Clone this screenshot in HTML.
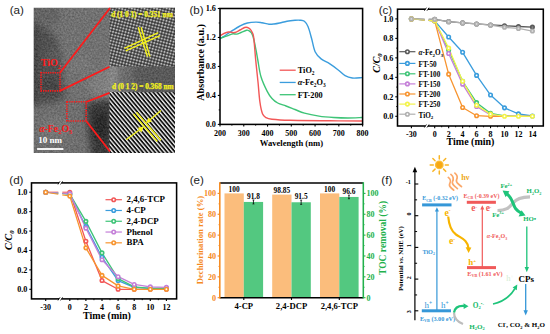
<!DOCTYPE html><html><head><meta charset="utf-8"><style>html,body{margin:0;padding:0;background:#fff;}svg{display:block;}</style></head><body>
<svg width="550" height="334" viewBox="0 0 550 334">
<rect width="550" height="334" fill="#fff"/>
<text x="9.70" y="13.50" font-size="11.6" text-anchor="start" font-weight="normal" fill="#222" font-family="Liberation Sans" >(a)</text>
<defs>
<filter id="tem" filterUnits="userSpaceOnUse" x="20" y="0" width="170" height="165" color-interpolation-filters="sRGB">
 <feGaussianBlur in="SourceGraphic" stdDeviation="3" result="b"/>
 <feTurbulence type="fractalNoise" baseFrequency="0.55" numOctaves="2" seed="7" result="t"/>
 <feColorMatrix in="t" type="matrix" values="1 0 0 0 0  1 0 0 0 0  1 0 0 0 0  0 0 0 0 1" result="tg"/>
 <feComposite in="b" in2="tg" operator="arithmetic" k1="0" k2="1" k3="0.24" k4="-0.12"/>
</filter>
<pattern id="lat" patternUnits="userSpaceOnUse" width="3.05" height="3.05" patternTransform="rotate(15)">
 <rect width="3.05" height="3.05" fill="#333"/>
 <circle cx="1.52" cy="1.52" r="1.2" fill="#a9a9a9"/>
 <circle cx="1.4" cy="1.4" r="0.55" fill="#cfcfcf"/>
</pattern>
<pattern id="str" patternUnits="userSpaceOnUse" width="3.1" height="10" patternTransform="rotate(-40)">
 <rect width="3.1" height="10" fill="#121212"/>
 <rect width="1.35" height="10" fill="#eeeeee"/>
</pattern>
<clipPath id="clipA"><rect x="33.7" y="7.8" width="141.3" height="145.1"/></clipPath>
</defs>
<g clip-path="url(#clipA)"><g filter="url(#tem)">
<rect x="20" y="0" width="170" height="165" fill="#6e6e6e"/>
<rect x="20" y="0" width="45" height="24" fill="#646464"/>
<polygon points="60,0 120,0 120,100 88,101 70,96 63,60 58,30" fill="#717171"/>
<ellipse cx="100" cy="84" rx="11" ry="14" fill="#7e7e7e"/>
<ellipse cx="80" cy="64" rx="12" ry="10" fill="#767676"/>
<polygon points="20,22 33,23 43,26 52,33 58,43 61,55 62,70 63,85 66,95 58,102 45,104 20,105" fill="#505050"/>
<rect x="20" y="24" width="17" height="82" fill="#424242"/>
<ellipse cx="50" cy="86" rx="11" ry="9" fill="#464646"/>
<ellipse cx="52" cy="56" rx="7" ry="10" fill="#595959"/>
<polygon points="86,104 112,98 112,160 92,160 88,130" fill="#3a3a3a"/>
<ellipse cx="101" cy="126" rx="8" ry="14" fill="#2a2a2a"/>
<ellipse cx="55" cy="128" rx="16" ry="12" fill="#767676"/>
<rect x="118" y="60" width="70" height="40" fill="#5a5a5a"/>
<rect x="117" y="60" width="16" height="40" fill="#6c6c6c"/>
<rect x="108" y="60" width="10" height="40" fill="#888888"/>
</g></g>
<rect x="109.5" y="7.8" width="65.5" height="58.7" fill="url(#lat)"/>
<rect x="109.5" y="92.2" width="65.5" height="60.7" fill="url(#str)"/>
<text x="111.20" y="16.90" font-size="7.3" text-anchor="start" font-weight="bold" fill="#f5f21c" font-family="Liberation Serif" stroke="#f5f21c" stroke-width="0.25">d (1 0 1) = 0.351 nm</text>
<text x="112.00" y="89.40" font-size="7.3" text-anchor="start" font-weight="bold" fill="#f5f21c" font-family="Liberation Serif" stroke="#f5f21c" stroke-width="0.25">d (0 1 2) = 0.368 nm</text>
<line x1="138.20" y1="27.30" x2="147.40" y2="56.50" stroke="#f5f21c" stroke-width="1.4" />
<line x1="141.10" y1="27.30" x2="149.90" y2="56.50" stroke="#f5f21c" stroke-width="1.4" />
<line x1="124.40" y1="48.30" x2="158.30" y2="32.60" stroke="#f5f21c" stroke-width="1.4" />
<line x1="125.70" y1="50.80" x2="160.00" y2="35.70" stroke="#f5f21c" stroke-width="1.4" />
<line x1="133.40" y1="114.00" x2="157.30" y2="141.50" stroke="#f5f21c" stroke-width="1.4" />
<line x1="136.40" y1="112.20" x2="160.90" y2="140.30" stroke="#f5f21c" stroke-width="1.4" />
<line x1="126.20" y1="139.70" x2="140.50" y2="129.00" stroke="#f5f21c" stroke-width="1.3" />
<polygon points="143.8,126.4 137.6,127.8 141.4,132.4" fill="#f5f21c"/>
<line x1="160.90" y1="110.40" x2="149.50" y2="120.30" stroke="#f5f21c" stroke-width="1.3" />
<polygon points="146,123.2 148.2,117.4 152,121.6" fill="#f5f21c"/>
<line x1="60.00" y1="72.70" x2="110.00" y2="8.00" stroke="#ff1a1a" stroke-width="1.8" />
<line x1="60.00" y1="90.90" x2="109.50" y2="66.80" stroke="#ff1a1a" stroke-width="1.8" />
<line x1="86.20" y1="102.00" x2="109.50" y2="92.80" stroke="#ff1a1a" stroke-width="1.8" />
<line x1="86.20" y1="121.00" x2="110.00" y2="151.50" stroke="#ff1a1a" stroke-width="1.8" />
<rect x="41" y="72.7" width="19" height="18.2" fill="none" stroke="#ff1a1a" stroke-width="1.6" stroke-dasharray="1.3,1"/>
<rect x="66.9" y="101.8" width="19.3" height="19.2" fill="none" stroke="#ff1a1a" stroke-width="1.6" stroke-dasharray="1.3,1"/>
<text x="40.80" y="66.40" font-size="10" text-anchor="start" font-weight="bold" fill="#ff1a1a" font-family="Liberation Serif" >TiO<tspan font-size="6.50" dy="2.20">2</tspan><tspan dy="-2.20"> </tspan></text>
<text x="39.20" y="131.90" font-size="9.8" text-anchor="start" font-weight="bold" fill="#ff1a1a" font-family="Liberation Serif" ><tspan font-style="italic">α</tspan>-Fe<tspan font-size="6.3" dy="2.2">2</tspan><tspan dy="-2.2">O</tspan><tspan font-size="6.3" dy="2.2">3</tspan></text>
<text x="38.20" y="142.90" font-size="9" text-anchor="start" font-weight="bold" fill="#fff" font-family="Liberation Serif" >10 nm</text>
<rect x="37.1" y="148.1" width="26.3" height="1.8" fill="#fff"/>
<text x="189.40" y="13.90" font-size="11.6" text-anchor="start" font-weight="normal" fill="#222" font-family="Liberation Sans" >(b)</text>
<path d="M220.50,38.30 C221.42,37.75 223.92,36.35 226.00,35.00 C228.08,33.65 230.67,31.70 233.00,30.20 C235.33,28.70 237.60,27.20 240.00,26.00 C242.40,24.80 244.68,23.65 247.40,23.00 C250.12,22.35 253.87,22.13 256.30,22.10 C258.73,22.07 259.88,22.45 262.00,22.80 C264.12,23.15 267.00,24.00 269.00,24.20 C271.00,24.40 272.22,24.20 274.00,24.00 C275.78,23.80 277.53,23.47 279.70,23.00 C281.87,22.53 284.45,21.65 287.00,21.20 C289.55,20.75 292.83,20.47 295.00,20.30 C297.17,20.13 298.43,20.03 300.00,20.20 C301.57,20.37 303.07,20.23 304.40,21.30 C305.73,22.37 306.80,23.73 308.00,26.60 C309.20,29.47 310.42,34.32 311.60,38.50 C312.78,42.68 313.52,48.30 315.10,51.70 C316.68,55.10 318.70,56.90 321.10,58.90 C323.50,60.90 326.70,61.90 329.50,63.70 C332.30,65.50 335.30,67.70 337.90,69.70 C340.50,71.70 342.70,74.32 345.10,75.70 C347.50,77.08 349.48,77.68 352.30,78.00 C355.12,78.32 360.38,77.67 362.00,77.60" fill="none" stroke="#3b9ddd" stroke-width="1.4" stroke-linejoin="round"/>
<path d="M220.50,38.30 C221.08,38.08 222.75,37.45 224.00,37.00 C225.25,36.55 226.50,36.13 228.00,35.60 C229.50,35.07 231.57,34.05 233.00,33.80 C234.43,33.55 235.27,34.32 236.60,34.10 C237.93,33.88 239.35,33.15 241.00,32.50 C242.65,31.85 245.17,30.50 246.50,30.20 C247.83,29.90 248.17,30.23 249.00,30.70 C249.83,31.17 250.72,31.62 251.50,33.00 C252.28,34.38 252.95,36.17 253.70,39.00 C254.45,41.83 255.32,46.50 256.00,50.00 C256.68,53.50 256.97,55.53 257.80,60.00 C258.63,64.47 259.43,71.57 261.00,76.80 C262.57,82.03 265.37,87.78 267.20,91.40 C269.03,95.02 270.25,96.57 272.00,98.50 C273.75,100.43 275.37,101.75 277.70,103.00 C280.03,104.25 283.12,104.92 286.00,106.00 C288.88,107.08 291.92,108.30 295.00,109.50 C298.08,110.70 300.50,112.10 304.50,113.20 C308.50,114.30 314.15,115.38 319.00,116.10 C323.85,116.82 328.77,117.18 333.60,117.50 C338.43,117.82 343.27,118.00 348.00,118.00 C352.73,118.00 359.67,117.58 362.00,117.50" fill="none" stroke="#3ec477" stroke-width="1.4" stroke-linejoin="round"/>
<path d="M220.50,35.60 C221.08,35.25 222.67,34.10 224.00,33.50 C225.33,32.90 227.25,32.20 228.50,32.00 C229.75,31.80 230.45,32.22 231.50,32.30 C232.55,32.38 233.38,32.88 234.80,32.50 C236.22,32.12 238.35,30.83 240.00,30.00 C241.65,29.17 243.45,27.92 244.70,27.50 C245.95,27.08 246.62,27.25 247.50,27.50 C248.38,27.75 249.25,28.25 250.00,29.00 C250.75,29.75 251.38,30.60 252.00,32.00 C252.62,33.40 253.08,32.73 253.70,37.40 C254.32,42.07 254.98,52.57 255.70,60.00 C256.42,67.43 257.30,75.02 258.00,82.00 C258.70,88.98 259.15,96.60 259.90,101.90 C260.65,107.20 261.48,111.18 262.50,113.80 C263.52,116.42 264.42,116.70 266.00,117.60 C267.58,118.50 268.00,118.75 272.00,119.20 C276.00,119.65 280.33,120.03 290.00,120.30 C299.67,120.57 318.00,120.68 330.00,120.80 C342.00,120.92 356.67,120.97 362.00,121.00" fill="none" stroke="#f25757" stroke-width="1.4" stroke-linejoin="round"/>
<rect x="220.0" y="8.5" width="142.60000000000002" height="115.9" fill="none" stroke="#000" stroke-width="1.55"/>
<line x1="217.80" y1="124.40" x2="220.00" y2="124.40" stroke="#000" stroke-width="1.1" />
<text x="215.90" y="127.20" font-size="8.2" text-anchor="end" font-weight="bold" fill="#000" font-family="Liberation Serif" >0.0</text>
<line x1="217.80" y1="95.43" x2="220.00" y2="95.43" stroke="#000" stroke-width="1.1" />
<text x="215.90" y="98.23" font-size="8.2" text-anchor="end" font-weight="bold" fill="#000" font-family="Liberation Serif" >0.4</text>
<line x1="217.80" y1="66.45" x2="220.00" y2="66.45" stroke="#000" stroke-width="1.1" />
<text x="215.90" y="69.25" font-size="8.2" text-anchor="end" font-weight="bold" fill="#000" font-family="Liberation Serif" >0.8</text>
<line x1="217.80" y1="37.48" x2="220.00" y2="37.48" stroke="#000" stroke-width="1.1" />
<text x="215.90" y="40.28" font-size="8.2" text-anchor="end" font-weight="bold" fill="#000" font-family="Liberation Serif" >1.2</text>
<line x1="217.80" y1="8.50" x2="220.00" y2="8.50" stroke="#000" stroke-width="1.1" />
<text x="215.90" y="11.30" font-size="8.2" text-anchor="end" font-weight="bold" fill="#000" font-family="Liberation Serif" >1.6</text>
<line x1="218.70" y1="109.91" x2="220.00" y2="109.91" stroke="#000" stroke-width="0.9" />
<line x1="218.70" y1="80.94" x2="220.00" y2="80.94" stroke="#000" stroke-width="0.9" />
<line x1="218.70" y1="51.96" x2="220.00" y2="51.96" stroke="#000" stroke-width="0.9" />
<line x1="218.70" y1="22.99" x2="220.00" y2="22.99" stroke="#000" stroke-width="0.9" />
<line x1="220.00" y1="124.40" x2="220.00" y2="126.60" stroke="#000" stroke-width="1.1" />
<text x="220.00" y="135.70" font-size="8" text-anchor="middle" font-weight="bold" fill="#000" font-family="Liberation Serif" >200</text>
<line x1="243.77" y1="124.40" x2="243.77" y2="126.60" stroke="#000" stroke-width="1.1" />
<text x="243.77" y="135.70" font-size="8" text-anchor="middle" font-weight="bold" fill="#000" font-family="Liberation Serif" >300</text>
<line x1="267.53" y1="124.40" x2="267.53" y2="126.60" stroke="#000" stroke-width="1.1" />
<text x="267.53" y="135.70" font-size="8" text-anchor="middle" font-weight="bold" fill="#000" font-family="Liberation Serif" >400</text>
<line x1="291.30" y1="124.40" x2="291.30" y2="126.60" stroke="#000" stroke-width="1.1" />
<text x="291.30" y="135.70" font-size="8" text-anchor="middle" font-weight="bold" fill="#000" font-family="Liberation Serif" >500</text>
<line x1="315.07" y1="124.40" x2="315.07" y2="126.60" stroke="#000" stroke-width="1.1" />
<text x="315.07" y="135.70" font-size="8" text-anchor="middle" font-weight="bold" fill="#000" font-family="Liberation Serif" >600</text>
<line x1="338.83" y1="124.40" x2="338.83" y2="126.60" stroke="#000" stroke-width="1.1" />
<text x="338.83" y="135.70" font-size="8" text-anchor="middle" font-weight="bold" fill="#000" font-family="Liberation Serif" >700</text>
<line x1="362.60" y1="124.40" x2="362.60" y2="126.60" stroke="#000" stroke-width="1.1" />
<text x="362.60" y="135.70" font-size="8" text-anchor="middle" font-weight="bold" fill="#000" font-family="Liberation Serif" >800</text>
<line x1="231.88" y1="124.40" x2="231.88" y2="125.70" stroke="#000" stroke-width="0.9" />
<line x1="255.65" y1="124.40" x2="255.65" y2="125.70" stroke="#000" stroke-width="0.9" />
<line x1="279.42" y1="124.40" x2="279.42" y2="125.70" stroke="#000" stroke-width="0.9" />
<line x1="303.18" y1="124.40" x2="303.18" y2="125.70" stroke="#000" stroke-width="0.9" />
<line x1="326.95" y1="124.40" x2="326.95" y2="125.70" stroke="#000" stroke-width="0.9" />
<line x1="350.72" y1="124.40" x2="350.72" y2="125.70" stroke="#000" stroke-width="0.9" />
<text x="291.40" y="146.30" font-size="8.6" text-anchor="middle" font-weight="bold" fill="#000" font-family="Liberation Serif" >Wavelength (nm)</text>
<text transform="translate(204,62.4) rotate(-90)" font-size="10.1" text-anchor="middle" font-weight="bold" font-family="Liberation Serif">Absorbance (a.u.)</text>
<line x1="279.70" y1="70.20" x2="295.70" y2="70.20" stroke="#f25757" stroke-width="1.3" />
<text x="297.70" y="73.20" font-size="8.3" text-anchor="start" font-weight="bold" fill="#000" font-family="Liberation Serif" >TiO<tspan font-size="5.40" dy="1.83">2</tspan><tspan dy="-1.83"> </tspan></text>
<line x1="279.70" y1="82.45" x2="295.70" y2="82.45" stroke="#3b9ddd" stroke-width="1.3" />
<text x="297.70" y="85.45" font-size="8.3" text-anchor="start" font-weight="bold" fill="#000" font-family="Liberation Serif" ><tspan font-style="italic">α</tspan>-Fe<tspan font-size="5.4" dy="1.8">2</tspan><tspan dy="-1.8">O</tspan><tspan font-size="5.4" dy="1.8">3</tspan></text>
<line x1="279.70" y1="94.70" x2="295.70" y2="94.70" stroke="#3ec477" stroke-width="1.3" />
<text x="297.70" y="97.70" font-size="8.3" text-anchor="start" font-weight="bold" fill="#000" font-family="Liberation Serif" >FT-200</text>
<text x="378.70" y="13.80" font-size="11.6" text-anchor="start" font-weight="normal" fill="#222" font-family="Liberation Sans" >(c)</text>
<line x1="411.40" y1="18.90" x2="424.70" y2="19.18" stroke="#5a5a5a" stroke-width="1.1" />
<line x1="428.70" y1="19.26" x2="434.70" y2="19.39" stroke="#5a5a5a" stroke-width="1.1" />
<polyline points="434.70,19.39 448.66,21.63 462.62,22.89 476.58,23.96 490.54,24.94 504.50,25.72 518.46,26.50 532.42,27.08" fill="none" stroke="#5a5a5a" stroke-width="1.3" stroke-linejoin="round" />
<line x1="411.40" y1="18.90" x2="424.70" y2="20.01" stroke="#3b9ddd" stroke-width="1.1" />
<line x1="428.70" y1="20.35" x2="434.70" y2="20.85" stroke="#3b9ddd" stroke-width="1.1" />
<polyline points="434.70,20.85 448.66,37.02 462.62,52.31 476.58,75.39 490.54,95.07 504.50,107.83 518.46,113.86 532.42,116.01" fill="none" stroke="#3b9ddd" stroke-width="1.3" stroke-linejoin="round" />
<line x1="411.40" y1="18.90" x2="424.70" y2="20.01" stroke="#3ec477" stroke-width="1.1" />
<line x1="428.70" y1="20.35" x2="434.70" y2="20.85" stroke="#3ec477" stroke-width="1.1" />
<polyline points="434.70,20.85 448.66,50.07 462.62,81.24 476.58,102.66 490.54,113.38 504.50,116.01 518.46,116.30 532.42,116.30" fill="none" stroke="#3ec477" stroke-width="1.3" stroke-linejoin="round" />
<line x1="411.40" y1="18.90" x2="424.70" y2="20.01" stroke="#c47fd8" stroke-width="1.1" />
<line x1="428.70" y1="20.35" x2="434.70" y2="20.85" stroke="#c47fd8" stroke-width="1.1" />
<polyline points="434.70,20.85 448.66,53.48 462.62,84.16 476.58,106.56 490.54,114.84 504.50,116.30 518.46,116.30 532.42,116.30" fill="none" stroke="#c47fd8" stroke-width="1.3" stroke-linejoin="round" />
<line x1="411.40" y1="18.90" x2="424.70" y2="20.01" stroke="#f7942f" stroke-width="1.1" />
<line x1="428.70" y1="20.35" x2="434.70" y2="20.85" stroke="#f7942f" stroke-width="1.1" />
<polyline points="434.70,20.85 448.66,74.13 462.62,107.53 476.58,115.72 490.54,116.30 504.50,116.30 518.46,116.30 532.42,116.30" fill="none" stroke="#f7942f" stroke-width="1.3" stroke-linejoin="round" />
<line x1="411.40" y1="18.90" x2="424.70" y2="20.01" stroke="#f3f34a" stroke-width="1.1" />
<line x1="428.70" y1="20.35" x2="434.70" y2="20.85" stroke="#f3f34a" stroke-width="1.1" />
<polyline points="434.70,20.85 448.66,48.12 462.62,81.24 476.58,105.20 490.54,114.16 504.50,116.30 518.46,116.30 532.42,116.30" fill="none" stroke="#f3f34a" stroke-width="1.3" stroke-linejoin="round" />
<line x1="411.40" y1="18.90" x2="424.70" y2="19.18" stroke="#b0b0b0" stroke-width="1.1" />
<line x1="428.70" y1="19.26" x2="434.70" y2="19.39" stroke="#b0b0b0" stroke-width="1.1" />
<polyline points="434.70,19.39 448.66,21.63 462.62,22.89 476.58,23.96 490.54,25.13 504.50,27.28 518.46,28.45 532.42,31.07" fill="none" stroke="#b0b0b0" stroke-width="1.3" stroke-linejoin="round" />
<circle cx="411.40" cy="18.90" r="1.75" fill="#8a8a8a" stroke="#5a5a5a" stroke-width="1.6"/>
<circle cx="434.70" cy="19.39" r="1.75" fill="#8a8a8a" stroke="#5a5a5a" stroke-width="1.6"/>
<circle cx="448.66" cy="21.63" r="1.75" fill="#8a8a8a" stroke="#5a5a5a" stroke-width="1.6"/>
<circle cx="462.62" cy="22.89" r="1.75" fill="#8a8a8a" stroke="#5a5a5a" stroke-width="1.6"/>
<circle cx="476.58" cy="23.96" r="1.75" fill="#8a8a8a" stroke="#5a5a5a" stroke-width="1.6"/>
<circle cx="490.54" cy="24.94" r="1.75" fill="#8a8a8a" stroke="#5a5a5a" stroke-width="1.6"/>
<circle cx="504.50" cy="25.72" r="1.75" fill="#8a8a8a" stroke="#5a5a5a" stroke-width="1.6"/>
<circle cx="518.46" cy="26.50" r="1.75" fill="#8a8a8a" stroke="#5a5a5a" stroke-width="1.6"/>
<circle cx="532.42" cy="27.08" r="1.75" fill="#8a8a8a" stroke="#5a5a5a" stroke-width="1.6"/>
<circle cx="411.40" cy="18.90" r="1.75" fill="#fff" stroke="#3b9ddd" stroke-width="1.6"/>
<circle cx="434.70" cy="20.85" r="1.75" fill="#fff" stroke="#3b9ddd" stroke-width="1.6"/>
<circle cx="448.66" cy="37.02" r="1.75" fill="#fff" stroke="#3b9ddd" stroke-width="1.6"/>
<circle cx="462.62" cy="52.31" r="1.75" fill="#fff" stroke="#3b9ddd" stroke-width="1.6"/>
<circle cx="476.58" cy="75.39" r="1.75" fill="#fff" stroke="#3b9ddd" stroke-width="1.6"/>
<circle cx="490.54" cy="95.07" r="1.75" fill="#fff" stroke="#3b9ddd" stroke-width="1.6"/>
<circle cx="504.50" cy="107.83" r="1.75" fill="#fff" stroke="#3b9ddd" stroke-width="1.6"/>
<circle cx="518.46" cy="113.86" r="1.75" fill="#fff" stroke="#3b9ddd" stroke-width="1.6"/>
<circle cx="532.42" cy="116.01" r="1.75" fill="#fff" stroke="#3b9ddd" stroke-width="1.6"/>
<circle cx="411.40" cy="18.90" r="1.75" fill="#fff" stroke="#3ec477" stroke-width="1.6"/>
<circle cx="434.70" cy="20.85" r="1.75" fill="#fff" stroke="#3ec477" stroke-width="1.6"/>
<circle cx="448.66" cy="50.07" r="1.75" fill="#fff" stroke="#3ec477" stroke-width="1.6"/>
<circle cx="462.62" cy="81.24" r="1.75" fill="#fff" stroke="#3ec477" stroke-width="1.6"/>
<circle cx="476.58" cy="102.66" r="1.75" fill="#fff" stroke="#3ec477" stroke-width="1.6"/>
<circle cx="490.54" cy="113.38" r="1.75" fill="#fff" stroke="#3ec477" stroke-width="1.6"/>
<circle cx="411.40" cy="18.90" r="1.75" fill="#fff" stroke="#c47fd8" stroke-width="1.6"/>
<circle cx="434.70" cy="20.85" r="1.75" fill="#fff" stroke="#c47fd8" stroke-width="1.6"/>
<circle cx="448.66" cy="53.48" r="1.75" fill="#fff" stroke="#c47fd8" stroke-width="1.6"/>
<circle cx="462.62" cy="84.16" r="1.75" fill="#fff" stroke="#c47fd8" stroke-width="1.6"/>
<circle cx="476.58" cy="106.56" r="1.75" fill="#fff" stroke="#c47fd8" stroke-width="1.6"/>
<circle cx="490.54" cy="114.84" r="1.75" fill="#fff" stroke="#c47fd8" stroke-width="1.6"/>
<circle cx="411.40" cy="18.90" r="1.75" fill="#fff" stroke="#f7942f" stroke-width="1.6"/>
<circle cx="434.70" cy="20.85" r="1.75" fill="#fff" stroke="#f7942f" stroke-width="1.6"/>
<circle cx="448.66" cy="74.13" r="1.75" fill="#fff" stroke="#f7942f" stroke-width="1.6"/>
<circle cx="462.62" cy="107.53" r="1.75" fill="#fff" stroke="#f7942f" stroke-width="1.6"/>
<circle cx="476.58" cy="115.72" r="1.75" fill="#fff" stroke="#f7942f" stroke-width="1.6"/>
<circle cx="490.54" cy="116.30" r="1.75" fill="#fff" stroke="#f7942f" stroke-width="1.6"/>
<circle cx="411.40" cy="18.90" r="1.75" fill="#fff" stroke="#f3f34a" stroke-width="1.6"/>
<circle cx="434.70" cy="20.85" r="1.75" fill="#fff" stroke="#f3f34a" stroke-width="1.6"/>
<circle cx="448.66" cy="48.12" r="1.75" fill="#fff" stroke="#f3f34a" stroke-width="1.6"/>
<circle cx="462.62" cy="81.24" r="1.75" fill="#fff" stroke="#f3f34a" stroke-width="1.6"/>
<circle cx="476.58" cy="105.20" r="1.75" fill="#fff" stroke="#f3f34a" stroke-width="1.6"/>
<circle cx="490.54" cy="114.16" r="1.75" fill="#fff" stroke="#f3f34a" stroke-width="1.6"/>
<circle cx="504.50" cy="116.30" r="1.75" fill="#fff" stroke="#f3f34a" stroke-width="1.6"/>
<circle cx="518.46" cy="116.30" r="1.75" fill="#fff" stroke="#f3f34a" stroke-width="1.6"/>
<circle cx="532.42" cy="116.30" r="1.75" fill="#fff" stroke="#f3f34a" stroke-width="1.6"/>
<circle cx="411.40" cy="18.90" r="1.75" fill="#dadada" stroke="#b0b0b0" stroke-width="1.6"/>
<circle cx="434.70" cy="19.39" r="1.75" fill="#dadada" stroke="#b0b0b0" stroke-width="1.6"/>
<circle cx="448.66" cy="21.63" r="1.75" fill="#dadada" stroke="#b0b0b0" stroke-width="1.6"/>
<circle cx="462.62" cy="22.89" r="1.75" fill="#dadada" stroke="#b0b0b0" stroke-width="1.6"/>
<circle cx="476.58" cy="23.96" r="1.75" fill="#dadada" stroke="#b0b0b0" stroke-width="1.6"/>
<circle cx="490.54" cy="25.13" r="1.75" fill="#dadada" stroke="#b0b0b0" stroke-width="1.6"/>
<circle cx="504.50" cy="27.28" r="1.75" fill="#dadada" stroke="#b0b0b0" stroke-width="1.6"/>
<circle cx="518.46" cy="28.45" r="1.75" fill="#dadada" stroke="#b0b0b0" stroke-width="1.6"/>
<circle cx="532.42" cy="31.07" r="1.75" fill="#dadada" stroke="#b0b0b0" stroke-width="1.6"/>
<rect x="397.5" y="9.2" width="145.79999999999995" height="116.8" fill="none" stroke="#000" stroke-width="1.55"/>
<rect x="425.4" y="7.699999999999999" width="2.6" height="3" fill="#fff"/>
<line x1="424.40" y1="10.70" x2="426.40" y2="7.70" stroke="#000" stroke-width="0.9" />
<line x1="427.00" y1="10.70" x2="429.00" y2="7.70" stroke="#000" stroke-width="0.9" />
<rect x="425.4" y="124.5" width="2.6" height="3" fill="#fff"/>
<line x1="424.40" y1="127.50" x2="426.40" y2="124.50" stroke="#000" stroke-width="0.9" />
<line x1="427.00" y1="127.50" x2="429.00" y2="124.50" stroke="#000" stroke-width="0.9" />
<line x1="395.30" y1="116.30" x2="397.50" y2="116.30" stroke="#000" stroke-width="1.1" />
<text x="393.40" y="119.10" font-size="8.2" text-anchor="end" font-weight="bold" fill="#000" font-family="Liberation Serif" >0.0</text>
<line x1="395.30" y1="96.82" x2="397.50" y2="96.82" stroke="#000" stroke-width="1.1" />
<text x="393.40" y="99.62" font-size="8.2" text-anchor="end" font-weight="bold" fill="#000" font-family="Liberation Serif" >0.2</text>
<line x1="395.30" y1="77.34" x2="397.50" y2="77.34" stroke="#000" stroke-width="1.1" />
<text x="393.40" y="80.14" font-size="8.2" text-anchor="end" font-weight="bold" fill="#000" font-family="Liberation Serif" >0.4</text>
<line x1="395.30" y1="57.86" x2="397.50" y2="57.86" stroke="#000" stroke-width="1.1" />
<text x="393.40" y="60.66" font-size="8.2" text-anchor="end" font-weight="bold" fill="#000" font-family="Liberation Serif" >0.6</text>
<line x1="395.30" y1="38.38" x2="397.50" y2="38.38" stroke="#000" stroke-width="1.1" />
<text x="393.40" y="41.18" font-size="8.2" text-anchor="end" font-weight="bold" fill="#000" font-family="Liberation Serif" >0.8</text>
<line x1="395.30" y1="18.90" x2="397.50" y2="18.90" stroke="#000" stroke-width="1.1" />
<text x="393.40" y="21.70" font-size="8.2" text-anchor="end" font-weight="bold" fill="#000" font-family="Liberation Serif" >1.0</text>
<line x1="396.20" y1="106.56" x2="397.50" y2="106.56" stroke="#000" stroke-width="0.9" />
<line x1="396.20" y1="87.08" x2="397.50" y2="87.08" stroke="#000" stroke-width="0.9" />
<line x1="396.20" y1="67.60" x2="397.50" y2="67.60" stroke="#000" stroke-width="0.9" />
<line x1="396.20" y1="48.12" x2="397.50" y2="48.12" stroke="#000" stroke-width="0.9" />
<line x1="396.20" y1="28.64" x2="397.50" y2="28.64" stroke="#000" stroke-width="0.9" />
<line x1="411.40" y1="126.00" x2="411.40" y2="128.20" stroke="#000" stroke-width="1.1" />
<text x="411.40" y="137.30" font-size="8" text-anchor="middle" font-weight="bold" fill="#000" font-family="Liberation Serif" >-30</text>
<line x1="434.70" y1="126.00" x2="434.70" y2="128.20" stroke="#000" stroke-width="1.1" />
<text x="434.70" y="137.30" font-size="8" text-anchor="middle" font-weight="bold" fill="#000" font-family="Liberation Serif" >0</text>
<line x1="448.66" y1="126.00" x2="448.66" y2="128.20" stroke="#000" stroke-width="1.1" />
<text x="448.66" y="137.30" font-size="8" text-anchor="middle" font-weight="bold" fill="#000" font-family="Liberation Serif" >2</text>
<line x1="462.62" y1="126.00" x2="462.62" y2="128.20" stroke="#000" stroke-width="1.1" />
<text x="462.62" y="137.30" font-size="8" text-anchor="middle" font-weight="bold" fill="#000" font-family="Liberation Serif" >4</text>
<line x1="476.58" y1="126.00" x2="476.58" y2="128.20" stroke="#000" stroke-width="1.1" />
<text x="476.58" y="137.30" font-size="8" text-anchor="middle" font-weight="bold" fill="#000" font-family="Liberation Serif" >6</text>
<line x1="490.54" y1="126.00" x2="490.54" y2="128.20" stroke="#000" stroke-width="1.1" />
<text x="490.54" y="137.30" font-size="8" text-anchor="middle" font-weight="bold" fill="#000" font-family="Liberation Serif" >8</text>
<line x1="504.50" y1="126.00" x2="504.50" y2="128.20" stroke="#000" stroke-width="1.1" />
<text x="504.50" y="137.30" font-size="8" text-anchor="middle" font-weight="bold" fill="#000" font-family="Liberation Serif" >10</text>
<line x1="518.46" y1="126.00" x2="518.46" y2="128.20" stroke="#000" stroke-width="1.1" />
<text x="518.46" y="137.30" font-size="8" text-anchor="middle" font-weight="bold" fill="#000" font-family="Liberation Serif" >12</text>
<line x1="532.42" y1="126.00" x2="532.42" y2="128.20" stroke="#000" stroke-width="1.1" />
<text x="532.42" y="137.30" font-size="8" text-anchor="middle" font-weight="bold" fill="#000" font-family="Liberation Serif" >14</text>
<line x1="441.68" y1="126.00" x2="441.68" y2="127.30" stroke="#000" stroke-width="0.9" />
<line x1="455.64" y1="126.00" x2="455.64" y2="127.30" stroke="#000" stroke-width="0.9" />
<line x1="469.60" y1="126.00" x2="469.60" y2="127.30" stroke="#000" stroke-width="0.9" />
<line x1="483.56" y1="126.00" x2="483.56" y2="127.30" stroke="#000" stroke-width="0.9" />
<line x1="497.52" y1="126.00" x2="497.52" y2="127.30" stroke="#000" stroke-width="0.9" />
<line x1="511.48" y1="126.00" x2="511.48" y2="127.30" stroke="#000" stroke-width="0.9" />
<line x1="525.44" y1="126.00" x2="525.44" y2="127.30" stroke="#000" stroke-width="0.9" />
<text x="470.50" y="145.30" font-size="10" text-anchor="middle" font-weight="bold" fill="#000" font-family="Liberation Serif" >Time (min)</text>
<text transform="translate(379.5,63.1) rotate(-90)" font-size="10" text-anchor="middle" font-weight="bold" font-style="italic" font-family="Liberation Serif">C/C<tspan font-size="6.5" dy="2">0</tspan></text>
<line x1="399.30" y1="51.70" x2="415.40" y2="51.70" stroke="#5a5a5a" stroke-width="1.2" />
<circle cx="407.4" cy="51.70" r="1.75" fill="#fff" stroke="#5a5a5a" stroke-width="1.6"/>
<text x="418.60" y="55.00" font-size="7.2" text-anchor="start" font-weight="bold" fill="#000" font-family="Liberation Serif" ><tspan font-style="italic">α</tspan>-Fe<tspan font-size="5" dy="1.7">2</tspan><tspan dy="-1.7">O</tspan><tspan font-size="5" dy="1.7">3</tspan></text>
<line x1="399.30" y1="63.40" x2="415.40" y2="63.40" stroke="#3b9ddd" stroke-width="1.2" />
<circle cx="407.4" cy="63.40" r="1.75" fill="#fff" stroke="#3b9ddd" stroke-width="1.6"/>
<text x="418.60" y="66.70" font-size="7.2" text-anchor="start" font-weight="bold" fill="#000" font-family="Liberation Serif" >FT-50</text>
<line x1="399.30" y1="73.80" x2="415.40" y2="73.80" stroke="#3ec477" stroke-width="1.2" />
<circle cx="407.4" cy="73.80" r="1.75" fill="#fff" stroke="#3ec477" stroke-width="1.6"/>
<text x="418.60" y="77.10" font-size="7.2" text-anchor="start" font-weight="bold" fill="#000" font-family="Liberation Serif" >FT-100</text>
<line x1="399.30" y1="83.90" x2="415.40" y2="83.90" stroke="#c47fd8" stroke-width="1.2" />
<circle cx="407.4" cy="83.90" r="1.75" fill="#fff" stroke="#c47fd8" stroke-width="1.6"/>
<text x="418.60" y="87.20" font-size="7.2" text-anchor="start" font-weight="bold" fill="#000" font-family="Liberation Serif" >FT-150</text>
<line x1="399.30" y1="94.00" x2="415.40" y2="94.00" stroke="#f7942f" stroke-width="1.2" />
<circle cx="407.4" cy="94.00" r="1.75" fill="#fff" stroke="#f7942f" stroke-width="1.6"/>
<text x="418.60" y="97.30" font-size="7.2" text-anchor="start" font-weight="bold" fill="#000" font-family="Liberation Serif" >FT-200</text>
<line x1="399.30" y1="104.10" x2="415.40" y2="104.10" stroke="#f3f34a" stroke-width="1.2" />
<circle cx="407.4" cy="104.10" r="1.75" fill="#fff" stroke="#f3f34a" stroke-width="1.6"/>
<text x="418.60" y="107.40" font-size="7.2" text-anchor="start" font-weight="bold" fill="#000" font-family="Liberation Serif" >FT-250</text>
<line x1="399.30" y1="114.20" x2="415.40" y2="114.20" stroke="#b0b0b0" stroke-width="1.2" />
<circle cx="407.4" cy="114.20" r="1.75" fill="#fff" stroke="#b0b0b0" stroke-width="1.6"/>
<text x="418.60" y="117.50" font-size="7.2" text-anchor="start" font-weight="bold" fill="#000" font-family="Liberation Serif" >TiO<tspan font-size="5" dy="1.7">2</tspan></text>
<text x="9.30" y="184.30" font-size="11.6" text-anchor="start" font-weight="normal" fill="#222" font-family="Liberation Sans" >(d)</text>
<line x1="45.70" y1="192.20" x2="58.30" y2="192.20" stroke="#f25757" stroke-width="1.1" />
<line x1="62.30" y1="192.20" x2="69.80" y2="192.20" stroke="#f25757" stroke-width="1.1" />
<polyline points="69.80,192.20 85.90,241.24 102.00,280.56 118.10,289.30 134.20,289.30 150.30,289.30 166.40,289.30" fill="none" stroke="#f25757" stroke-width="1.3" stroke-linejoin="round" />
<line x1="45.70" y1="192.20" x2="58.30" y2="193.22" stroke="#3b9ddd" stroke-width="1.1" />
<line x1="62.30" y1="193.54" x2="69.80" y2="194.14" stroke="#3b9ddd" stroke-width="1.1" />
<polyline points="69.80,194.14 85.90,226.67 102.00,257.26 118.10,280.56 134.20,287.36 150.30,288.33 166.40,288.33" fill="none" stroke="#3b9ddd" stroke-width="1.3" stroke-linejoin="round" />
<line x1="45.70" y1="192.20" x2="58.30" y2="193.22" stroke="#3ec477" stroke-width="1.1" />
<line x1="62.30" y1="193.54" x2="69.80" y2="194.14" stroke="#3ec477" stroke-width="1.1" />
<polyline points="69.80,194.14 85.90,221.33 102.00,252.89 118.10,278.62 134.20,286.87 150.30,288.33 166.40,288.33" fill="none" stroke="#3ec477" stroke-width="1.3" stroke-linejoin="round" />
<line x1="45.70" y1="192.20" x2="58.30" y2="192.96" stroke="#c47fd8" stroke-width="1.1" />
<line x1="62.30" y1="193.20" x2="69.80" y2="193.66" stroke="#c47fd8" stroke-width="1.1" />
<polyline points="69.80,193.66 85.90,228.13 102.00,259.68 118.10,276.68 134.20,284.44 150.30,286.87 166.40,287.36" fill="none" stroke="#c47fd8" stroke-width="1.3" stroke-linejoin="round" />
<line x1="45.70" y1="192.20" x2="58.30" y2="194.23" stroke="#f7942f" stroke-width="1.1" />
<line x1="62.30" y1="194.88" x2="69.80" y2="196.08" stroke="#f7942f" stroke-width="1.1" />
<polyline points="69.80,196.08 85.90,247.84 102.00,275.41 118.10,285.90 134.20,289.30 150.30,289.30 166.40,289.30" fill="none" stroke="#f7942f" stroke-width="1.3" stroke-linejoin="round" />
<circle cx="45.70" cy="192.20" r="1.75" fill="#fff" stroke="#f25757" stroke-width="1.6"/>
<circle cx="69.80" cy="192.20" r="1.75" fill="#fff" stroke="#f25757" stroke-width="1.6"/>
<circle cx="85.90" cy="241.24" r="1.75" fill="#fff" stroke="#f25757" stroke-width="1.6"/>
<circle cx="102.00" cy="280.56" r="1.75" fill="#fff" stroke="#f25757" stroke-width="1.6"/>
<circle cx="118.10" cy="289.30" r="1.75" fill="#fff" stroke="#f25757" stroke-width="1.6"/>
<circle cx="134.20" cy="289.30" r="1.75" fill="#fff" stroke="#f25757" stroke-width="1.6"/>
<circle cx="150.30" cy="289.30" r="1.75" fill="#fff" stroke="#f25757" stroke-width="1.6"/>
<circle cx="166.40" cy="289.30" r="1.75" fill="#fff" stroke="#f25757" stroke-width="1.6"/>
<circle cx="45.70" cy="192.20" r="1.75" fill="#fff" stroke="#3b9ddd" stroke-width="1.6"/>
<circle cx="69.80" cy="194.14" r="1.75" fill="#fff" stroke="#3b9ddd" stroke-width="1.6"/>
<circle cx="85.90" cy="226.67" r="1.75" fill="#fff" stroke="#3b9ddd" stroke-width="1.6"/>
<circle cx="102.00" cy="257.26" r="1.75" fill="#fff" stroke="#3b9ddd" stroke-width="1.6"/>
<circle cx="118.10" cy="280.56" r="1.75" fill="#fff" stroke="#3b9ddd" stroke-width="1.6"/>
<circle cx="134.20" cy="287.36" r="1.75" fill="#fff" stroke="#3b9ddd" stroke-width="1.6"/>
<circle cx="150.30" cy="288.33" r="1.75" fill="#fff" stroke="#3b9ddd" stroke-width="1.6"/>
<circle cx="166.40" cy="288.33" r="1.75" fill="#fff" stroke="#3b9ddd" stroke-width="1.6"/>
<circle cx="45.70" cy="192.20" r="1.75" fill="#fff" stroke="#3ec477" stroke-width="1.6"/>
<circle cx="69.80" cy="194.14" r="1.75" fill="#fff" stroke="#3ec477" stroke-width="1.6"/>
<circle cx="85.90" cy="221.33" r="1.75" fill="#fff" stroke="#3ec477" stroke-width="1.6"/>
<circle cx="102.00" cy="252.89" r="1.75" fill="#fff" stroke="#3ec477" stroke-width="1.6"/>
<circle cx="118.10" cy="278.62" r="1.75" fill="#fff" stroke="#3ec477" stroke-width="1.6"/>
<circle cx="134.20" cy="286.87" r="1.75" fill="#fff" stroke="#3ec477" stroke-width="1.6"/>
<circle cx="150.30" cy="288.33" r="1.75" fill="#fff" stroke="#3ec477" stroke-width="1.6"/>
<circle cx="166.40" cy="288.33" r="1.75" fill="#fff" stroke="#3ec477" stroke-width="1.6"/>
<circle cx="45.70" cy="192.20" r="1.75" fill="#fff" stroke="#c47fd8" stroke-width="1.6"/>
<circle cx="69.80" cy="193.66" r="1.75" fill="#fff" stroke="#c47fd8" stroke-width="1.6"/>
<circle cx="85.90" cy="228.13" r="1.75" fill="#fff" stroke="#c47fd8" stroke-width="1.6"/>
<circle cx="102.00" cy="259.68" r="1.75" fill="#fff" stroke="#c47fd8" stroke-width="1.6"/>
<circle cx="118.10" cy="276.68" r="1.75" fill="#fff" stroke="#c47fd8" stroke-width="1.6"/>
<circle cx="134.20" cy="284.44" r="1.75" fill="#fff" stroke="#c47fd8" stroke-width="1.6"/>
<circle cx="150.30" cy="286.87" r="1.75" fill="#fff" stroke="#c47fd8" stroke-width="1.6"/>
<circle cx="166.40" cy="287.36" r="1.75" fill="#fff" stroke="#c47fd8" stroke-width="1.6"/>
<circle cx="45.70" cy="192.20" r="1.75" fill="#fff" stroke="#f7942f" stroke-width="1.6"/>
<circle cx="69.80" cy="196.08" r="1.75" fill="#fff" stroke="#f7942f" stroke-width="1.6"/>
<circle cx="85.90" cy="247.84" r="1.75" fill="#fff" stroke="#f7942f" stroke-width="1.6"/>
<circle cx="102.00" cy="275.41" r="1.75" fill="#fff" stroke="#f7942f" stroke-width="1.6"/>
<circle cx="118.10" cy="285.90" r="1.75" fill="#fff" stroke="#f7942f" stroke-width="1.6"/>
<circle cx="134.20" cy="289.30" r="1.75" fill="#fff" stroke="#f7942f" stroke-width="1.6"/>
<circle cx="150.30" cy="289.30" r="1.75" fill="#fff" stroke="#f7942f" stroke-width="1.6"/>
<circle cx="166.40" cy="289.30" r="1.75" fill="#fff" stroke="#f7942f" stroke-width="1.6"/>
<rect x="31.5" y="182.9" width="145.1" height="115.99999999999997" fill="none" stroke="#000" stroke-width="1.55"/>
<rect x="59.0" y="181.4" width="2.6" height="3" fill="#fff"/>
<line x1="58.00" y1="184.40" x2="60.00" y2="181.40" stroke="#000" stroke-width="0.9" />
<line x1="60.60" y1="184.40" x2="62.60" y2="181.40" stroke="#000" stroke-width="0.9" />
<rect x="59.0" y="297.4" width="2.6" height="3" fill="#fff"/>
<line x1="58.00" y1="300.40" x2="60.00" y2="297.40" stroke="#000" stroke-width="0.9" />
<line x1="60.60" y1="300.40" x2="62.60" y2="297.40" stroke="#000" stroke-width="0.9" />
<line x1="29.30" y1="289.30" x2="31.50" y2="289.30" stroke="#000" stroke-width="1.1" />
<text x="27.40" y="292.10" font-size="8.2" text-anchor="end" font-weight="bold" fill="#000" font-family="Liberation Serif" >0.0</text>
<line x1="29.30" y1="269.88" x2="31.50" y2="269.88" stroke="#000" stroke-width="1.1" />
<text x="27.40" y="272.68" font-size="8.2" text-anchor="end" font-weight="bold" fill="#000" font-family="Liberation Serif" >0.2</text>
<line x1="29.30" y1="250.46" x2="31.50" y2="250.46" stroke="#000" stroke-width="1.1" />
<text x="27.40" y="253.26" font-size="8.2" text-anchor="end" font-weight="bold" fill="#000" font-family="Liberation Serif" >0.4</text>
<line x1="29.30" y1="231.04" x2="31.50" y2="231.04" stroke="#000" stroke-width="1.1" />
<text x="27.40" y="233.84" font-size="8.2" text-anchor="end" font-weight="bold" fill="#000" font-family="Liberation Serif" >0.6</text>
<line x1="29.30" y1="211.62" x2="31.50" y2="211.62" stroke="#000" stroke-width="1.1" />
<text x="27.40" y="214.42" font-size="8.2" text-anchor="end" font-weight="bold" fill="#000" font-family="Liberation Serif" >0.8</text>
<line x1="29.30" y1="192.20" x2="31.50" y2="192.20" stroke="#000" stroke-width="1.1" />
<text x="27.40" y="195.00" font-size="8.2" text-anchor="end" font-weight="bold" fill="#000" font-family="Liberation Serif" >1.0</text>
<line x1="30.20" y1="279.59" x2="31.50" y2="279.59" stroke="#000" stroke-width="0.9" />
<line x1="30.20" y1="260.17" x2="31.50" y2="260.17" stroke="#000" stroke-width="0.9" />
<line x1="30.20" y1="240.75" x2="31.50" y2="240.75" stroke="#000" stroke-width="0.9" />
<line x1="30.20" y1="221.33" x2="31.50" y2="221.33" stroke="#000" stroke-width="0.9" />
<line x1="30.20" y1="201.91" x2="31.50" y2="201.91" stroke="#000" stroke-width="0.9" />
<line x1="45.70" y1="298.90" x2="45.70" y2="301.10" stroke="#000" stroke-width="1.1" />
<text x="45.70" y="309.90" font-size="8" text-anchor="middle" font-weight="bold" fill="#000" font-family="Liberation Serif" >-30</text>
<line x1="69.80" y1="298.90" x2="69.80" y2="301.10" stroke="#000" stroke-width="1.1" />
<text x="69.80" y="309.90" font-size="8" text-anchor="middle" font-weight="bold" fill="#000" font-family="Liberation Serif" >0</text>
<line x1="85.90" y1="298.90" x2="85.90" y2="301.10" stroke="#000" stroke-width="1.1" />
<text x="85.90" y="309.90" font-size="8" text-anchor="middle" font-weight="bold" fill="#000" font-family="Liberation Serif" >2</text>
<line x1="102.00" y1="298.90" x2="102.00" y2="301.10" stroke="#000" stroke-width="1.1" />
<text x="102.00" y="309.90" font-size="8" text-anchor="middle" font-weight="bold" fill="#000" font-family="Liberation Serif" >4</text>
<line x1="118.10" y1="298.90" x2="118.10" y2="301.10" stroke="#000" stroke-width="1.1" />
<text x="118.10" y="309.90" font-size="8" text-anchor="middle" font-weight="bold" fill="#000" font-family="Liberation Serif" >6</text>
<line x1="134.20" y1="298.90" x2="134.20" y2="301.10" stroke="#000" stroke-width="1.1" />
<text x="134.20" y="309.90" font-size="8" text-anchor="middle" font-weight="bold" fill="#000" font-family="Liberation Serif" >8</text>
<line x1="150.30" y1="298.90" x2="150.30" y2="301.10" stroke="#000" stroke-width="1.1" />
<text x="150.30" y="309.90" font-size="8" text-anchor="middle" font-weight="bold" fill="#000" font-family="Liberation Serif" >10</text>
<line x1="166.40" y1="298.90" x2="166.40" y2="301.10" stroke="#000" stroke-width="1.1" />
<text x="166.40" y="309.90" font-size="8" text-anchor="middle" font-weight="bold" fill="#000" font-family="Liberation Serif" >12</text>
<line x1="77.85" y1="298.90" x2="77.85" y2="300.20" stroke="#000" stroke-width="0.9" />
<line x1="93.95" y1="298.90" x2="93.95" y2="300.20" stroke="#000" stroke-width="0.9" />
<line x1="110.05" y1="298.90" x2="110.05" y2="300.20" stroke="#000" stroke-width="0.9" />
<line x1="126.15" y1="298.90" x2="126.15" y2="300.20" stroke="#000" stroke-width="0.9" />
<line x1="142.25" y1="298.90" x2="142.25" y2="300.20" stroke="#000" stroke-width="0.9" />
<line x1="158.35" y1="298.90" x2="158.35" y2="300.20" stroke="#000" stroke-width="0.9" />
<text x="107.00" y="319.00" font-size="10" text-anchor="middle" font-weight="bold" fill="#000" font-family="Liberation Serif" >Time (min)</text>
<text transform="translate(12,240.2) rotate(-90)" font-size="10" text-anchor="middle" font-weight="bold" font-style="italic" font-family="Liberation Serif">C/C<tspan font-size="6.5" dy="2">0</tspan></text>
<line x1="105.50" y1="199.70" x2="121.90" y2="199.70" stroke="#f25757" stroke-width="1.2" />
<circle cx="113.7" cy="199.70" r="1.75" fill="#fff" stroke="#f25757" stroke-width="1.6"/>
<text x="126.50" y="202.20" font-size="8.9" text-anchor="start" font-weight="bold" fill="#000" font-family="Liberation Serif" >2,4,6-TCP</text>
<line x1="105.50" y1="210.48" x2="121.90" y2="210.48" stroke="#3b9ddd" stroke-width="1.2" />
<circle cx="113.7" cy="210.48" r="1.75" fill="#fff" stroke="#3b9ddd" stroke-width="1.6"/>
<text x="126.50" y="212.98" font-size="8.9" text-anchor="start" font-weight="bold" fill="#000" font-family="Liberation Serif" >4-CP</text>
<line x1="105.50" y1="221.26" x2="121.90" y2="221.26" stroke="#3ec477" stroke-width="1.2" />
<circle cx="113.7" cy="221.26" r="1.75" fill="#fff" stroke="#3ec477" stroke-width="1.6"/>
<text x="126.50" y="223.76" font-size="8.9" text-anchor="start" font-weight="bold" fill="#000" font-family="Liberation Serif" >2,4-DCP</text>
<line x1="105.50" y1="232.04" x2="121.90" y2="232.04" stroke="#c47fd8" stroke-width="1.2" />
<circle cx="113.7" cy="232.04" r="1.75" fill="#fff" stroke="#c47fd8" stroke-width="1.6"/>
<text x="126.50" y="234.54" font-size="8.9" text-anchor="start" font-weight="bold" fill="#000" font-family="Liberation Serif" >Phenol</text>
<line x1="105.50" y1="242.82" x2="121.90" y2="242.82" stroke="#f7942f" stroke-width="1.2" />
<circle cx="113.7" cy="242.82" r="1.75" fill="#fff" stroke="#f7942f" stroke-width="1.6"/>
<text x="126.50" y="245.32" font-size="8.9" text-anchor="start" font-weight="bold" fill="#000" font-family="Liberation Serif" >BPA</text>
<text x="189.70" y="184.30" font-size="11.6" text-anchor="start" font-weight="normal" fill="#222" font-family="Liberation Sans" >(e)</text>
<rect x="224.50" y="193.40" width="19.3" height="104.30" fill="#fbbd7c"/>
<rect x="243.80" y="201.95" width="19.3" height="95.75" fill="#53c880"/>
<line x1="253.45" y1="199.95" x2="253.45" y2="203.96" stroke="#000" stroke-width="0.8" />
<line x1="252.45" y1="199.95" x2="254.45" y2="199.95" stroke="#000" stroke-width="0.7" />
<line x1="252.45" y1="203.96" x2="254.45" y2="203.96" stroke="#000" stroke-width="0.7" />
<text x="234.15" y="191.60" font-size="7.4" text-anchor="middle" font-weight="bold" fill="#000" font-family="Liberation Serif" >100</text>
<text x="253.45" y="198.55" font-size="7.4" text-anchor="middle" font-weight="bold" fill="#000" font-family="Liberation Serif" >91.8</text>
<rect x="272.20" y="194.60" width="19.3" height="103.10" fill="#fbbd7c"/>
<rect x="291.50" y="202.27" width="19.3" height="95.43" fill="#53c880"/>
<line x1="301.15" y1="200.14" x2="301.15" y2="204.39" stroke="#000" stroke-width="0.8" />
<line x1="300.15" y1="200.14" x2="302.15" y2="200.14" stroke="#000" stroke-width="0.7" />
<line x1="300.15" y1="204.39" x2="302.15" y2="204.39" stroke="#000" stroke-width="0.7" />
<text x="281.85" y="192.80" font-size="7.4" text-anchor="middle" font-weight="bold" fill="#000" font-family="Liberation Serif" >98.85</text>
<text x="301.15" y="198.87" font-size="7.4" text-anchor="middle" font-weight="bold" fill="#000" font-family="Liberation Serif" >91.5</text>
<rect x="320.00" y="193.40" width="19.3" height="104.30" fill="#fbbd7c"/>
<rect x="339.30" y="196.95" width="19.3" height="100.75" fill="#53c880"/>
<line x1="348.95" y1="195.16" x2="348.95" y2="198.73" stroke="#000" stroke-width="0.8" />
<line x1="347.95" y1="195.16" x2="349.95" y2="195.16" stroke="#000" stroke-width="0.7" />
<line x1="347.95" y1="198.73" x2="349.95" y2="198.73" stroke="#000" stroke-width="0.7" />
<text x="329.65" y="191.60" font-size="7.4" text-anchor="middle" font-weight="bold" fill="#000" font-family="Liberation Serif" >100</text>
<text x="348.95" y="193.55" font-size="7.4" text-anchor="middle" font-weight="bold" fill="#000" font-family="Liberation Serif" >96.6</text>
<line x1="219.80" y1="182.90" x2="363.30" y2="182.90" stroke="#000" stroke-width="1.55" />
<line x1="219.80" y1="297.70" x2="363.30" y2="297.70" stroke="#000" stroke-width="1.55" />
<line x1="219.80" y1="182.20" x2="219.80" y2="298.40" stroke="#f58a1f" stroke-width="1.55" />
<line x1="363.30" y1="182.20" x2="363.30" y2="298.40" stroke="#22b14c" stroke-width="1.55" />
<line x1="217.60" y1="297.70" x2="219.80" y2="297.70" stroke="#f58a1f" stroke-width="1.1" />
<text x="216.20" y="300.50" font-size="8.2" text-anchor="end" font-weight="bold" fill="#f58a1f" font-family="Liberation Serif" >0</text>
<line x1="363.30" y1="297.70" x2="365.50" y2="297.70" stroke="#22b14c" stroke-width="1.1" />
<text x="366.50" y="300.50" font-size="8" text-anchor="start" font-weight="bold" fill="#22b14c" font-family="Liberation Serif" >0</text>
<line x1="217.60" y1="276.84" x2="219.80" y2="276.84" stroke="#f58a1f" stroke-width="1.1" />
<text x="216.20" y="279.64" font-size="8.2" text-anchor="end" font-weight="bold" fill="#f58a1f" font-family="Liberation Serif" >20</text>
<line x1="363.30" y1="276.84" x2="365.50" y2="276.84" stroke="#22b14c" stroke-width="1.1" />
<text x="366.50" y="279.64" font-size="8" text-anchor="start" font-weight="bold" fill="#22b14c" font-family="Liberation Serif" >20</text>
<line x1="217.60" y1="255.98" x2="219.80" y2="255.98" stroke="#f58a1f" stroke-width="1.1" />
<text x="216.20" y="258.78" font-size="8.2" text-anchor="end" font-weight="bold" fill="#f58a1f" font-family="Liberation Serif" >40</text>
<line x1="363.30" y1="255.98" x2="365.50" y2="255.98" stroke="#22b14c" stroke-width="1.1" />
<text x="366.50" y="258.78" font-size="8" text-anchor="start" font-weight="bold" fill="#22b14c" font-family="Liberation Serif" >40</text>
<line x1="217.60" y1="235.12" x2="219.80" y2="235.12" stroke="#f58a1f" stroke-width="1.1" />
<text x="216.20" y="237.92" font-size="8.2" text-anchor="end" font-weight="bold" fill="#f58a1f" font-family="Liberation Serif" >60</text>
<line x1="363.30" y1="235.12" x2="365.50" y2="235.12" stroke="#22b14c" stroke-width="1.1" />
<text x="366.50" y="237.92" font-size="8" text-anchor="start" font-weight="bold" fill="#22b14c" font-family="Liberation Serif" >60</text>
<line x1="217.60" y1="214.26" x2="219.80" y2="214.26" stroke="#f58a1f" stroke-width="1.1" />
<text x="216.20" y="217.06" font-size="8.2" text-anchor="end" font-weight="bold" fill="#f58a1f" font-family="Liberation Serif" >80</text>
<line x1="363.30" y1="214.26" x2="365.50" y2="214.26" stroke="#22b14c" stroke-width="1.1" />
<text x="366.50" y="217.06" font-size="8" text-anchor="start" font-weight="bold" fill="#22b14c" font-family="Liberation Serif" >80</text>
<line x1="217.60" y1="193.40" x2="219.80" y2="193.40" stroke="#f58a1f" stroke-width="1.1" />
<text x="216.20" y="196.20" font-size="8.2" text-anchor="end" font-weight="bold" fill="#f58a1f" font-family="Liberation Serif" >100</text>
<line x1="363.30" y1="193.40" x2="365.50" y2="193.40" stroke="#22b14c" stroke-width="1.1" />
<text x="366.50" y="196.20" font-size="8" text-anchor="start" font-weight="bold" fill="#22b14c" font-family="Liberation Serif" >100</text>
<line x1="218.50" y1="287.27" x2="219.80" y2="287.27" stroke="#f58a1f" stroke-width="0.9" />
<line x1="363.30" y1="287.27" x2="364.60" y2="287.27" stroke="#22b14c" stroke-width="0.9" />
<line x1="218.50" y1="266.41" x2="219.80" y2="266.41" stroke="#f58a1f" stroke-width="0.9" />
<line x1="363.30" y1="266.41" x2="364.60" y2="266.41" stroke="#22b14c" stroke-width="0.9" />
<line x1="218.50" y1="245.55" x2="219.80" y2="245.55" stroke="#f58a1f" stroke-width="0.9" />
<line x1="363.30" y1="245.55" x2="364.60" y2="245.55" stroke="#22b14c" stroke-width="0.9" />
<line x1="218.50" y1="224.69" x2="219.80" y2="224.69" stroke="#f58a1f" stroke-width="0.9" />
<line x1="363.30" y1="224.69" x2="364.60" y2="224.69" stroke="#22b14c" stroke-width="0.9" />
<line x1="218.50" y1="203.83" x2="219.80" y2="203.83" stroke="#f58a1f" stroke-width="0.9" />
<line x1="363.30" y1="203.83" x2="364.60" y2="203.83" stroke="#22b14c" stroke-width="0.9" />
<line x1="243.80" y1="297.70" x2="243.80" y2="299.90" stroke="#000" stroke-width="1.1" />
<text x="243.80" y="309.30" font-size="8.6" text-anchor="middle" font-weight="bold" fill="#000" font-family="Liberation Serif" >4-CP</text>
<line x1="291.50" y1="297.70" x2="291.50" y2="299.90" stroke="#000" stroke-width="1.1" />
<text x="291.50" y="309.30" font-size="8.6" text-anchor="middle" font-weight="bold" fill="#000" font-family="Liberation Serif" >2,4-DCP</text>
<line x1="339.30" y1="297.70" x2="339.30" y2="299.90" stroke="#000" stroke-width="1.1" />
<text x="339.30" y="309.30" font-size="8.6" text-anchor="middle" font-weight="bold" fill="#000" font-family="Liberation Serif" >2,4,6-TCP</text>
<text transform="translate(202.8,240) rotate(-90)" font-size="8.6" text-anchor="middle" font-weight="bold" fill="#f58a1f" font-family="Liberation Serif">Dechlorination rate (%)</text>
<text transform="translate(386,237.9) rotate(-90)" font-size="9.5" text-anchor="middle" font-weight="bold" fill="#22b14c" font-family="Liberation Serif">TOC removal (%)</text>
<text x="381.30" y="184.30" font-size="11.6" text-anchor="start" font-weight="normal" fill="#222" font-family="Liberation Sans" >(f)</text>
<line x1="414.90" y1="171.00" x2="414.90" y2="320.30" stroke="#000" stroke-width="1.2" />
<polygon points="414.9,166.8 412.59999999999997,172.2 417.2,172.2" fill="#000"/>
<line x1="414.90" y1="184.00" x2="418.30" y2="184.00" stroke="#000" stroke-width="1.1" />
<text x="410.90" y="183.60" font-size="6.2" text-anchor="end" font-weight="bold" fill="#000" font-family="Liberation Serif" >-1</text>
<line x1="414.90" y1="215.70" x2="418.30" y2="215.70" stroke="#000" stroke-width="1.1" />
<text transform="translate(410.8,214.10) rotate(-90)" font-size="6" text-anchor="middle" font-weight="bold" font-family="Liberation Serif">0</text>
<line x1="414.90" y1="247.40" x2="418.30" y2="247.40" stroke="#000" stroke-width="1.1" />
<text transform="translate(410.8,245.80) rotate(-90)" font-size="6" text-anchor="middle" font-weight="bold" font-family="Liberation Serif">1</text>
<line x1="414.90" y1="279.10" x2="418.30" y2="279.10" stroke="#000" stroke-width="1.1" />
<text transform="translate(410.8,277.70) rotate(-90)" font-size="6" text-anchor="middle" font-weight="bold" font-family="Liberation Serif">2</text>
<line x1="414.90" y1="310.80" x2="418.30" y2="310.80" stroke="#000" stroke-width="1.1" />
<text transform="translate(410.8,311.80) rotate(-90)" font-size="6" text-anchor="middle" font-weight="bold" font-family="Liberation Serif">3</text>
<line x1="414.90" y1="199.85" x2="417.10" y2="199.85" stroke="#000" stroke-width="1" />
<line x1="414.90" y1="231.55" x2="417.10" y2="231.55" stroke="#000" stroke-width="1" />
<line x1="414.90" y1="263.25" x2="417.10" y2="263.25" stroke="#000" stroke-width="1" />
<line x1="414.90" y1="294.95" x2="417.10" y2="294.95" stroke="#000" stroke-width="1" />
<text transform="translate(403,258.6) rotate(-90)" font-size="6.7" text-anchor="middle" font-weight="bold" font-family="Liberation Serif">Potential <tspan font-style="italic">vs.</tspan> NHE (eV)</text>
<circle cx="439.3" cy="164.9" r="4.4" fill="#fbbf3a"/><circle cx="439.3" cy="164.9" r="3.1" fill="#f7a914"/>
<line x1="445.30" y1="164.90" x2="448.40" y2="164.90" stroke="#f9b526" stroke-width="1.5" stroke-linecap="round"/>
<line x1="443.54" y1="169.14" x2="445.73" y2="171.33" stroke="#f9b526" stroke-width="1.5" stroke-linecap="round"/>
<line x1="439.30" y1="170.90" x2="439.30" y2="174.00" stroke="#f9b526" stroke-width="1.5" stroke-linecap="round"/>
<line x1="435.06" y1="169.14" x2="432.87" y2="171.33" stroke="#f9b526" stroke-width="1.5" stroke-linecap="round"/>
<line x1="433.30" y1="164.90" x2="430.20" y2="164.90" stroke="#f9b526" stroke-width="1.5" stroke-linecap="round"/>
<line x1="435.06" y1="160.66" x2="432.87" y2="158.47" stroke="#f9b526" stroke-width="1.5" stroke-linecap="round"/>
<line x1="439.30" y1="158.90" x2="439.30" y2="155.80" stroke="#f9b526" stroke-width="1.5" stroke-linecap="round"/>
<line x1="443.54" y1="160.66" x2="445.73" y2="158.47" stroke="#f9b526" stroke-width="1.5" stroke-linecap="round"/>
<path d="M448.30,177.40 C450.90,179.40 451.05,180.80 449.65,183.80 C448.45,186.80 450.70,187.20 453.70,190.20" fill="none" stroke="#fba86a" stroke-width="1.7" stroke-linecap="round"/>
<path d="M450.90,174.40 C453.50,176.40 453.92,178.55 452.52,181.55 C451.32,184.55 454.40,185.70 457.40,188.70" fill="none" stroke="#fba86a" stroke-width="1.7" stroke-linecap="round"/>
<path d="M454.90,173.10 C457.50,175.10 457.95,176.90 456.55,179.90 C455.35,182.90 458.50,183.70 461.50,186.70" fill="none" stroke="#fba86a" stroke-width="1.7" stroke-linecap="round"/>
<text x="461.30" y="180.40" font-size="8.2" text-anchor="start" font-weight="bold" fill="#eeaa1e" font-family="Liberation Serif" >hν</text>
<text x="422.20" y="200.20" font-size="5.95" text-anchor="start" font-weight="bold" fill="#3597d8" font-family="Liberation Serif" >E<tspan font-size="4.05" dy="1.3">CB</tspan><tspan dy="-1.3"> (-0.32 eV)</tspan></text>
<rect x="422.1" y="203.4" width="29.4" height="3" fill="#3597d8"/>
<line x1="436.90" y1="310.00" x2="436.90" y2="210.50" stroke="#3597d8" stroke-width="1.2" />
<polygon points="436.9,207.3 434.9,211.6 438.9,211.6" fill="#3597d8"/>
<text x="422.40" y="254.20" font-size="6.2" text-anchor="start" font-weight="bold" fill="#3597d8" font-family="Liberation Serif" >TiO<tspan font-size="4" dy="1.2">2</tspan></text>
<rect x="421.8" y="309.3" width="29.2" height="3" fill="#3597d8"/>
<text x="428.20" y="308.40" font-size="9" text-anchor="middle" font-weight="normal" fill="#3597d8" font-family="Liberation Serif" >h<tspan font-size="5.5" font-weight="bold" dy="-3.4">+</tspan></text>
<text x="444.80" y="308.40" font-size="9" text-anchor="middle" font-weight="normal" fill="#3597d8" font-family="Liberation Serif" >h<tspan font-size="5.5" font-weight="bold" dy="-3.4">+</tspan></text>
<text x="419.90" y="320.90" font-size="6.2" text-anchor="start" font-weight="bold" fill="#3597d8" font-family="Liberation Serif" >E<tspan font-size="4.22" dy="1.3">VB</tspan><tspan dy="-1.3"> (3.00 eV)</tspan></text>
<text x="463.60" y="197.50" font-size="5.95" text-anchor="start" font-weight="bold" fill="#f05a5a" font-family="Liberation Serif" >E<tspan font-size="4.05" dy="1.3">CB</tspan><tspan dy="-1.3"> (-0.39 eV)</tspan></text>
<rect x="466.8" y="200.8" width="29.1" height="3" fill="#f05a5a"/>
<line x1="482.30" y1="267.00" x2="482.30" y2="208.50" stroke="#f05a5a" stroke-width="1.2" />
<polygon points="482.3,205.3 480.3,209.6 484.3,209.6" fill="#f05a5a"/>
<text x="474.20" y="211.20" font-size="9.5" text-anchor="middle" font-weight="bold" fill="#f05a5a" font-family="Liberation Serif" >e<tspan font-size="5" dy="-3.2">-</tspan></text>
<text x="488.60" y="211.20" font-size="9.5" text-anchor="middle" font-weight="bold" fill="#f05a5a" font-family="Liberation Serif" >e<tspan font-size="5" dy="-3.2">-</tspan></text>
<text x="486.80" y="238.40" font-size="6.0" text-anchor="start" font-weight="bold" fill="#f05a5a" font-family="Liberation Serif" ><tspan font-style="italic">α</tspan>-Fe<tspan font-size="4" dy="1.2">2</tspan><tspan dy="-1.2">O</tspan><tspan font-size="4" dy="1.2">3</tspan></text>
<rect x="467" y="266.1" width="29" height="3" fill="#f05a5a"/>
<text x="467.30" y="276.00" font-size="6.2" text-anchor="start" font-weight="bold" fill="#f05a5a" font-family="Liberation Serif" >E<tspan font-size="4.22" dy="1.3">VB</tspan><tspan dy="-1.3"> (1.61 eV)</tspan></text>
<text x="472.20" y="264.80" font-size="9" text-anchor="middle" font-weight="bold" fill="#f7b400" font-family="Liberation Serif" >h<tspan font-size="5" dy="-3.2">+</tspan></text>
<path d="M448.2,216.5 C449,226 451,231 456,234.5 C462,238.5 467.6,240 468.4,248" fill="none" stroke="#f7b400" stroke-width="2.2"/>
<polygon points="468.6,253 465.6,247.2 471.4,247.5" fill="#f7b400"/>
<text x="447.60" y="215.70" font-size="9.8" text-anchor="middle" font-weight="bold" fill="#f7b400" font-family="Liberation Serif" >e<tspan font-size="5.5" dy="-3.4">-</tspan></text>
<text x="452.00" y="244.40" font-size="9.8" text-anchor="middle" font-weight="bold" fill="#f7b400" font-family="Liberation Serif" >e<tspan font-size="5.5" dy="-3.4">-</tspan></text>
<path d="M497.5,210.5 C506,210.4 509,208 513,203 C516,199 520,197 530,196.8" fill="none" stroke="#c2c2c2" stroke-width="3.2"/>
<path d="M506,193.5 C512,196 512.5,204 515.5,208.5 C517.5,211 519.5,212.3 521,213" fill="none" stroke="#1ec47a" stroke-width="3"/>
<polygon points="502.6,190.6 509.4,191.2 505.6,197.2" fill="#1ec47a"/>
<polygon points="525.5,215.5 518.6,216.6 521.6,210.2" fill="#1ec47a"/>
<text x="500.40" y="188.40" font-size="6.8" text-anchor="start" font-weight="bold" fill="#12b866" font-family="Liberation Serif" >Fe<tspan font-size="4.2" dy="-2.6">2+</tspan></text>
<text x="526.60" y="193.30" font-size="6.8" text-anchor="start" font-weight="bold" fill="#12b866" font-family="Liberation Serif" >H<tspan font-size="4.2" dy="1.3">2</tspan><tspan dy="-1.3">O</tspan><tspan font-size="4.2" dy="1.3">2</tspan></text>
<text x="492.20" y="216.90" font-size="6.8" text-anchor="start" font-weight="bold" fill="#12b866" font-family="Liberation Serif" >Fe<tspan font-size="4.2" dy="-2.6">3+</tspan></text>
<text x="523.20" y="221.30" font-size="6.8" text-anchor="start" font-weight="bold" fill="#12b866" font-family="Liberation Serif" >HO•</text>
<line x1="526.80" y1="226.60" x2="526.80" y2="268.00" stroke="#1ec47a" stroke-width="1.3" />
<polygon points="526.8,272.2 524.6,267 529,267" fill="#1ec47a"/>
<text x="526.20" y="281.60" font-size="9" text-anchor="middle" font-weight="bold" fill="#000" font-family="Liberation Serif" >CPs</text>
<text x="506.30" y="281.00" font-size="8.6" text-anchor="start" font-weight="normal" fill="#d3ecd3" font-family="Liberation Serif" >h<tspan font-size="5" dy="-3">+</tspan></text>
<line x1="525.70" y1="284.00" x2="525.70" y2="311.00" stroke="#3597d8" stroke-width="1.3" />
<polygon points="525.7,315.5 523.5,310.2 527.9,310.2" fill="#3597d8"/>
<text x="521.40" y="327.20" font-size="7" text-anchor="middle" font-weight="bold" fill="#000" font-family="Liberation Serif" >Cl<tspan font-size="4.4" dy="-2.6">-</tspan><tspan dy="2.6">, CO</tspan><tspan font-size="4.4" dy="1.3">2</tspan><tspan dy="-1.3"> &amp; H</tspan><tspan font-size="4.4" dy="1.3">2</tspan><tspan dy="-1.3">O</tspan></text>
<text x="472.80" y="307.60" font-size="7.3" text-anchor="start" font-weight="bold" fill="#12b866" font-family="Liberation Serif" >O<tspan font-size="4.6" dy="1.4">2</tspan><tspan font-size="4.6" dy="-4.1">•-</tspan></text>
<path d="M493,304 C502,302 510,297 515,288.5" fill="none" stroke="#1ec47a" stroke-width="1.6"/>
<polygon points="517.3,284.5 516.8,290.3 512.6,287.6" fill="#1ec47a"/>
<text x="469.30" y="328.60" font-size="7.1" text-anchor="start" font-weight="bold" fill="#12b866" font-family="Liberation Serif" >H<tspan font-size="4.5" dy="1.3">2</tspan><tspan dy="-1.3">O</tspan><tspan font-size="4.5" dy="1.3">2</tspan></text>
<path d="M454,312.5 C454,318 458,322 463,324" fill="none" stroke="#bdbdbd" stroke-width="2.2"/>
<path d="M454,312.5 C455,307 459,305.5 464.5,306" fill="none" stroke="#1ec47a" stroke-width="2.2"/>
<polygon points="468.5,306.2 463.5,303.3 463.7,309" fill="#1ec47a"/>
</svg></body></html>
